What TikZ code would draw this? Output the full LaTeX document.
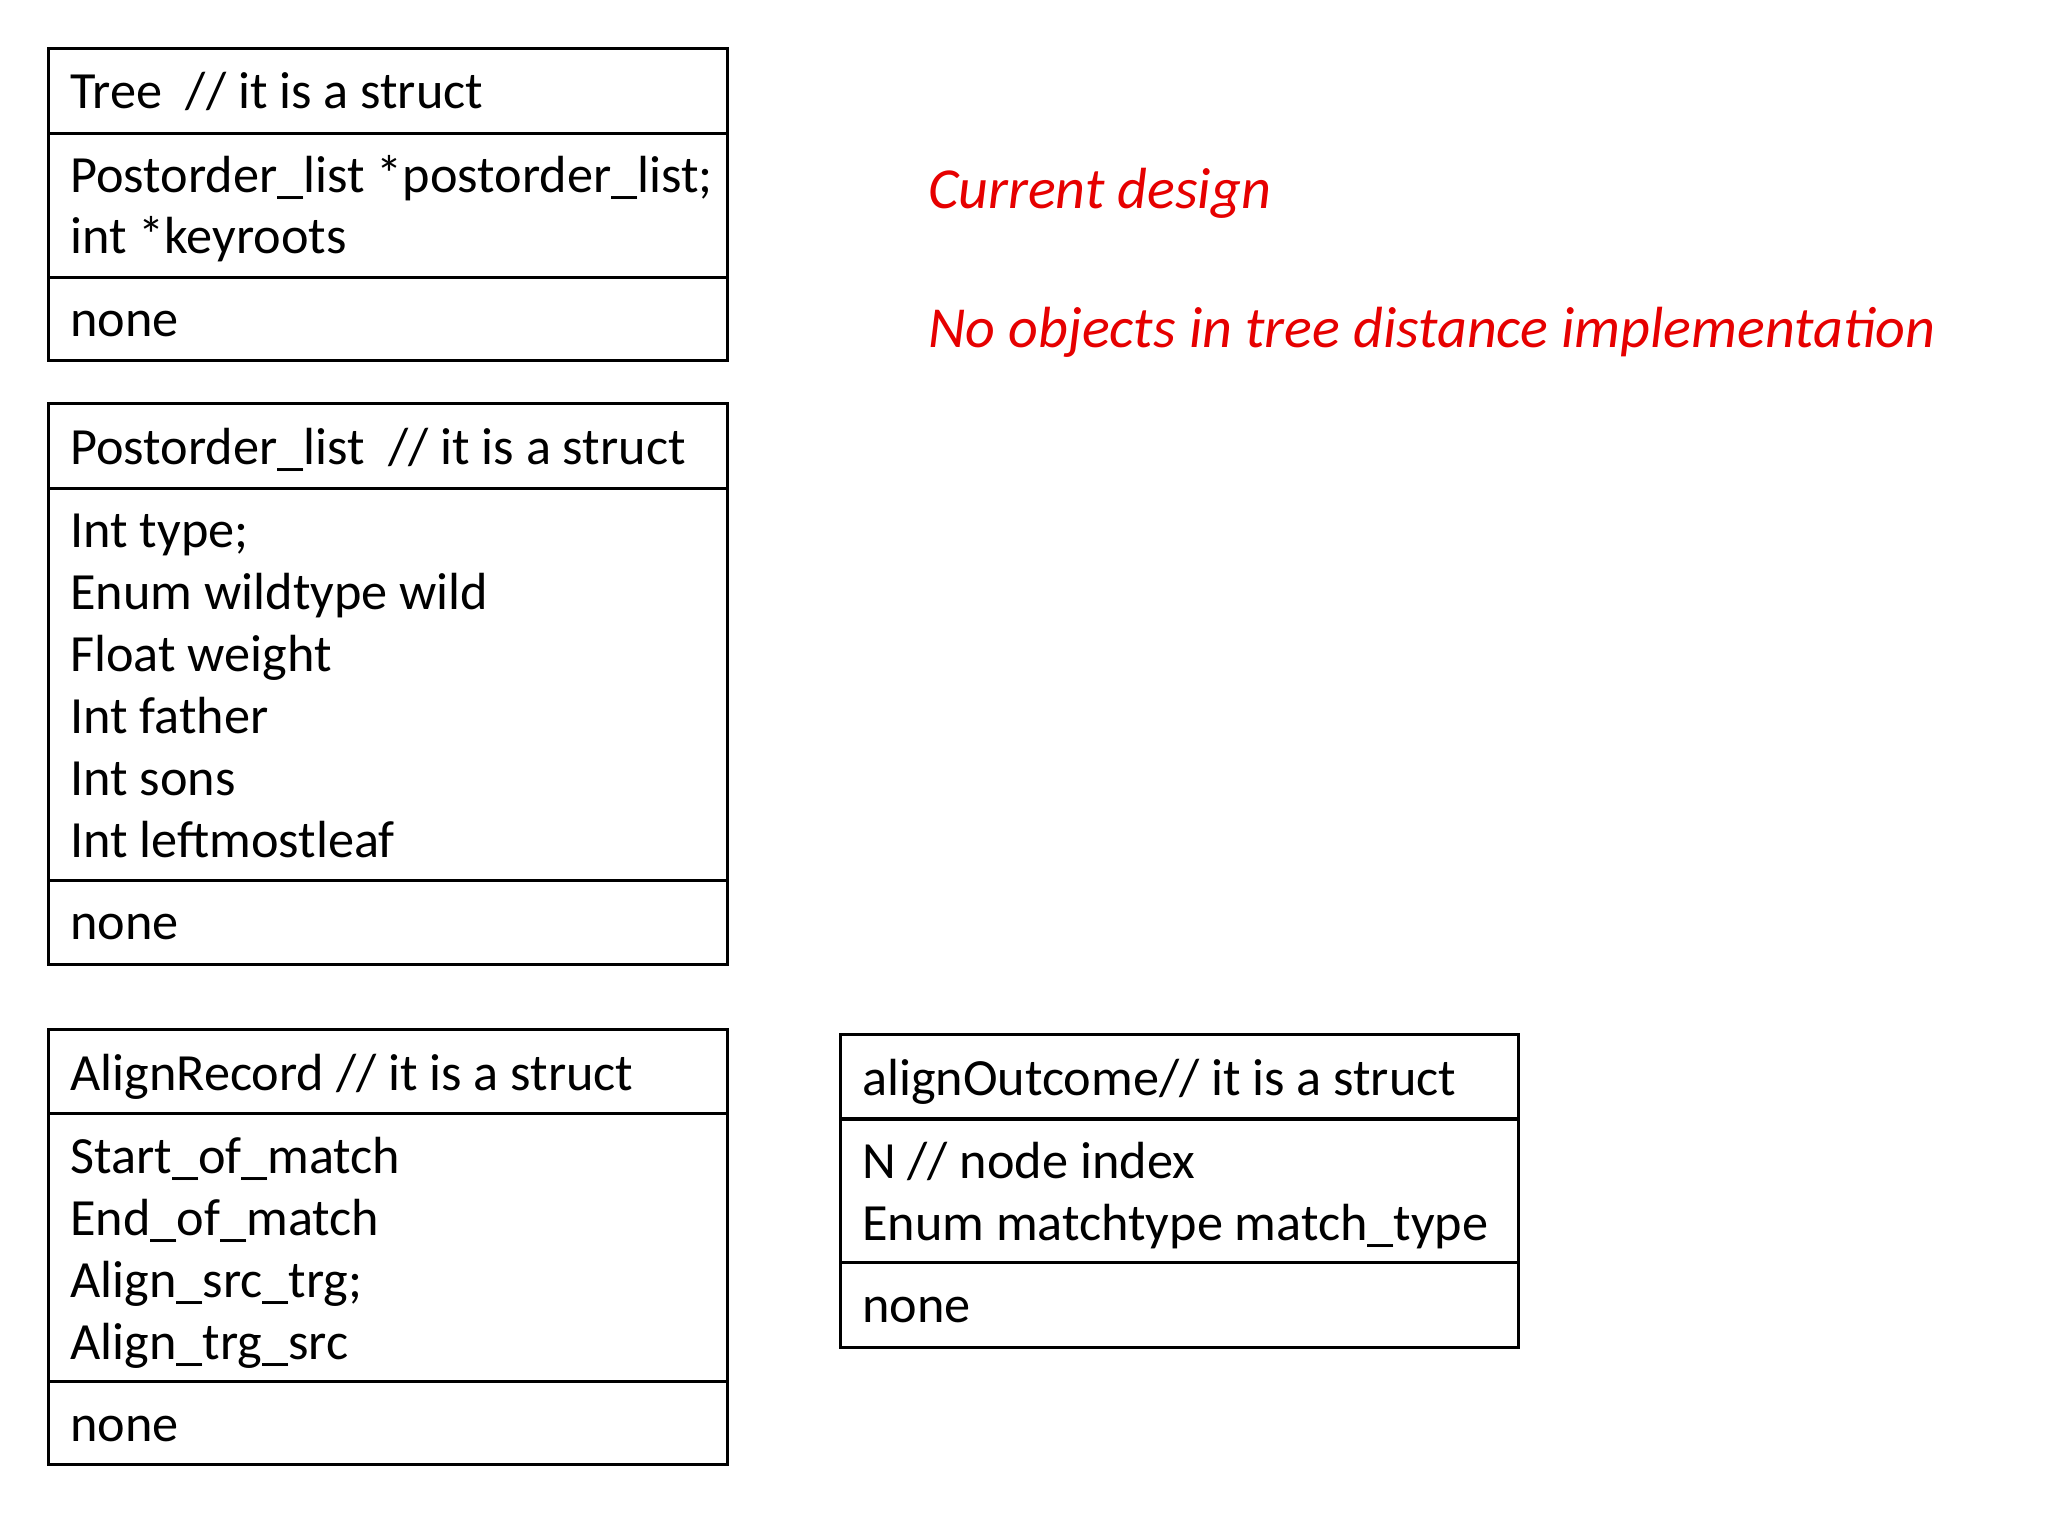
\documentclass[tikz,border=0pt]{standalone}
\usepackage{fontspec}
\setmainfont{Carlito}
\begin{document}
\begin{tikzpicture}[x=0.5pt,y=-0.5pt,
  box/.style={draw,line width=1.2pt},
  txt/.style={anchor=base west,inner sep=0pt,font=\fontsize{19.8}{23}\selectfont},
  red/.style={txt,text={rgb,255:red,230;green,0;blue,0},font=\fontsize{22}{26}\selectfont\itshape}]
\useasboundingbox (0,0) rectangle (1552,1164);
% Box 1
\draw[box] (37,37) rectangle (551,273);
\draw[box] (37,101) -- (551,101); \draw[box] (37,210) -- (551,210);
\node[txt] (t1) at (53,82) {Tree~~// it is a struct};
\node[txt] (t2) at (53,146) {Postorder\_list *postorder\_list;};
\node[txt] (t3) at (53,192) {int *keyroots};
\node[txt] (t4) at (53,255) {none};
% Box 2
\draw[box] (37,306) rectangle (551,731);
\draw[box] (37,370) -- (551,370); \draw[box] (37,667) -- (551,667);
\node[txt] (p0) at (53,352) {Postorder\_list~~// it is a struct};
\node[txt] (p1) at (53,415) {Int type;};
\node[txt] (p2) at (53,462) {Enum wildtype wild};
\node[txt] (p3) at (53,509) {Float weight};
\node[txt] (p4) at (53,556) {Int father};
\node[txt] (p5) at (53,603) {Int sons};
\node[txt] (p6) at (53,650) {Int leftmostleaf};
\node[txt] (p7) at (53,712) {none};
% Box 3
\draw[box] (37,780) rectangle (551,1110);
\draw[box] (37,844) -- (551,844); \draw[box] (37,1047) -- (551,1047);
\node[txt] (a0) at (53,826) {AlignRecord // it is a struct};
\node[txt] (a1) at (53,889) {Start\_of\_match};
\node[txt] (a2) at (53,936) {End\_of\_match};
\node[txt] (a3) at (53,983) {Align\_src\_trg;};
\node[txt] (a4) at (53,1030) {Align\_trg\_src};
\node[txt] (a5) at (53,1092) {none};
% Box 4
\draw[box] (637,784) rectangle (1151,1021);
\draw[box] (637,848) -- (1151,848); \draw[box] (637,957) -- (1151,957);
\node[txt] (o0) at (653,830) {alignOutcome// it is a struct};
\node[txt] (o1) at (653,893) {N // node index};
\node[txt] (o2) at (653,940) {Enum matchtype match\_type};
\node[txt] (o3) at (653,1002) {none};
% Red notes
\node[red] (r1) at (703,158) {Current design};
\node[red] (r2) at (703,263) {No objects in tree distance implementation};
\end{tikzpicture}
\end{document}
